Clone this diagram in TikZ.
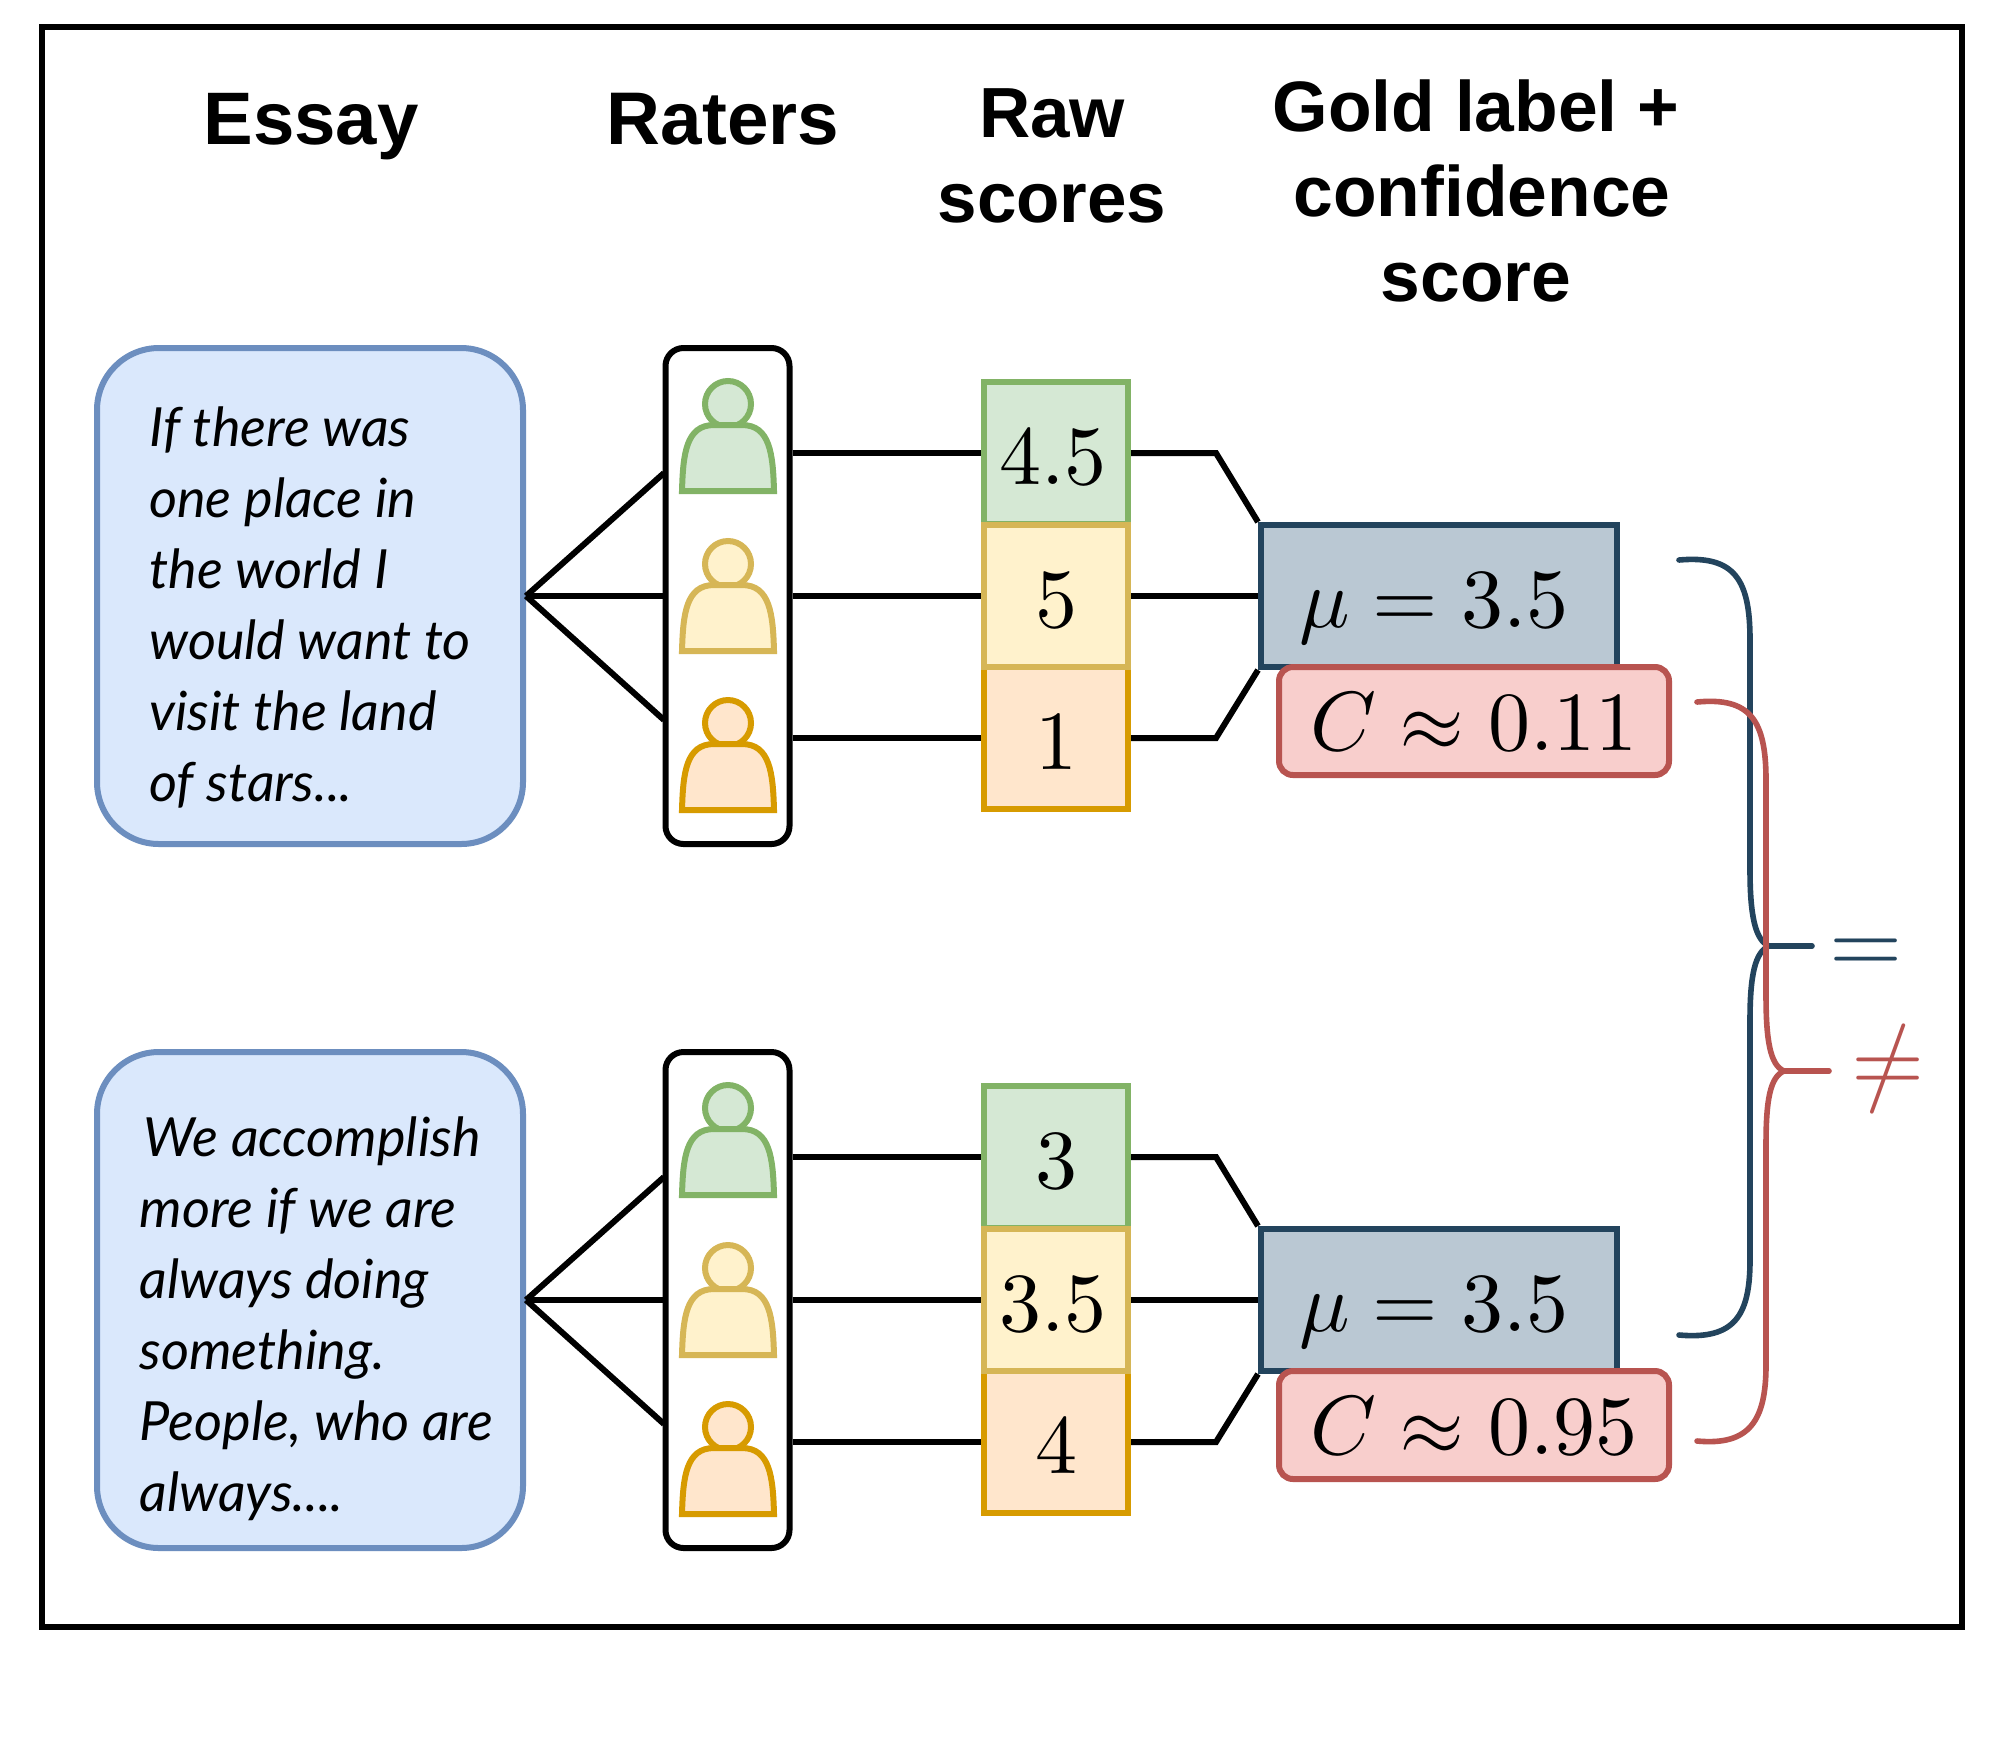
\documentclass[tikz,border=0pt]{standalone}
\usepackage{amsmath}
\usepackage{fontspec}
\setmainfont{Liberation Sans}
\newfontfamily\essayfont{Lato}
\usepackage{unicode-math}
\setmathfont{Latin Modern Math}
\definecolor{gfill}{HTML}{D5E8D4}\definecolor{gline}{HTML}{82B366}
\definecolor{yfill}{HTML}{FFF2CC}\definecolor{yline}{HTML}{D6B656}
\definecolor{ofill}{HTML}{FFE6CC}\definecolor{oline}{HTML}{D79B00}
\definecolor{bfill}{HTML}{DAE8FC}\definecolor{bline}{HTML}{6C8EBF}
\definecolor{rfill}{HTML}{F8CECC}\definecolor{rline}{HTML}{B85450}
\definecolor{nfill}{HTML}{BAC8D3}\definecolor{nline}{HTML}{23445D}
\tikzset{
  header/.style={font=\fontsize{#1}{42.5}\selectfont\bfseries,align=center,inner sep=0pt},
  essaybox/.style={draw=bline,fill=bfill,line width=3pt,rounded corners=31pt,minimum width=213pt,minimum height=248pt,inner sep=0pt,font=\fontsize{27}{35.5}\selectfont\essayfont\itshape},
  raterbox/.style={draw=black,fill=white,line width=3pt,rounded corners=9pt,minimum width=62pt,minimum height=248pt,inner sep=0pt},
  scorebox/.style={line width=3pt,minimum width=72pt,minimum height=71pt,inner sep=0pt,font=\fontsize{42}{48}\selectfont,text height=31pt,text depth=0pt},
  goldbox/.style={draw=nline,fill=nfill,line width=3pt,minimum width=178pt,minimum height=71pt,inner sep=0pt,font=\fontsize{42}{48}\selectfont,text height=31pt,text depth=0pt},
  confbox/.style={draw=rline,fill=rfill,line width=3pt,rounded corners=7pt,minimum width=195pt,minimum height=54pt,inner sep=0pt,font=\fontsize{42}{48}\selectfont,text height=29pt,text depth=0pt},
  conn/.style={draw=black,line width=3pt,line join=miter},
  relsign/.style={font=\fontsize{47}{52}\selectfont,inner sep=0pt},
  bracepath/.style={line width=2.8pt,line cap=round},
}
\newcommand{\ratericon}[4]{% x, head y, fill, line
  \begin{scope}[shift={(#1,#2)},draw=#4,fill=#3,line width=3pt]
    \filldraw (0,0) ellipse [x radius=23, y radius=23];
    \filldraw (-46,87) .. controls (-45,50) and (-42,21) .. (-14,21) -- (14,21) .. controls (42,21) and (45,50) .. (46,87) -- cycle;
  \end{scope}}
\newcommand{\rowgroup}[9]{% suffix, y offset, essay text, 3 scores, C, essay hspace, strut
  \begin{scope}[yshift=#2*-0.5pt]
  \node[essaybox] (e#1) at (310,596) {\hspace*{#8pt}\begin{tabular}{@{}l@{}}\rule{0pt}{#9pt}#3\end{tabular}};
  \node[raterbox] (r#1) at (727.5,596) {};
  \ratericon{728}{404}{gfill}{gline}
  \ratericon{728}{564}{yfill}{yline}
  \ratericon{728}{723}{ofill}{oline}
  \node[scorebox,draw=gline,fill=gfill] (sa#1) at (1056,453) {#4};
  \node[scorebox,draw=oline,fill=ofill] (sc#1) at (1056,738) {#6};
  \node[scorebox,draw=yline,fill=yfill] (sb#1) at (1056,596) {#5};
  \node[goldbox] (g#1) at (1439,596) {$\mu=3.5$\hspace*{5pt}};
  \node[confbox] (c#1) at (1474,721) {$C\approx #7$};
  \coordinate (ea#1) at (664,473);
  \coordinate (ec#1) at (664,720);
  \coordinate (ka#1) at (1216,453);
  \coordinate (kc#1) at (1216,738);
  \draw[conn] (e#1.east) -- (ea#1);
  \draw[conn] (e#1.east) -- (r#1.west);
  \draw[conn] (e#1.east) -- (ec#1);
  \draw[conn] (r#1.east |- sa#1.west) -- (sa#1.west);
  \draw[conn] (r#1.east |- sb#1.west) -- (sb#1.west);
  \draw[conn] (r#1.east |- sc#1.west) -- (sc#1.west);
  \draw[conn] (sa#1.east) -- (ka#1) -- (g#1.north west);
  \draw[conn] (sb#1.east) -- (g#1.west);
  \draw[conn] (sc#1.east) -- (kc#1) -- (g#1.south west);
  \end{scope}}
\begin{document}
\begin{tikzpicture}[x=0.5pt,y=-0.5pt]
\useasboundingbox (0,0) rectangle (2007,1736);
\fill[white] (0,0) rectangle (2007,1736);
\node[draw=black,line width=3pt,minimum width=960pt,minimum height=800pt,inner sep=0pt] (frame) at (1002,827) {};
\node[header=37.2] (h1) at (311,127) {Essay};
\node[header=37.3] (h2) at (723,119) {Raters};
\node[header=35.5] (h3) at (1052,156) {Raw\\scores};
\node[header=35.7] (h4) at (1476,191) {Gold label +\\\hspace*{6pt}confidence\\score};
\rowgroup{u}{0}{If there was\\one place in\\the world I\\would want to\\visit the land\\of stars...}{$4.5$\hspace*{3pt}}{$5$}{$1$}{0.11}{0}{39}
\rowgroup{d}{704}{\hspace{2pt}We accomplish\\more if we are\\always doing\\something.\\People, who are\\always....}{$3$}{$3.5$\hspace*{3pt}}{$4$}{0.95}{6.5}{45}
% blue brace
\coordinate (bs) at (1679,560);
\coordinate (bm) at (1769,946);
\coordinate (be) at (1679,1335);
\coordinate (bt) at (1812,946);
\draw[bracepath,draw=nline] (bs) .. controls (1735,555) and (1750,580) .. (1750,640) -- (1750,870) .. controls (1750,915) and (1755,940) .. (bm) .. controls (1755,952) and (1750,975) .. (1750,1020) -- (1750,1260) .. controls (1750,1315) and (1735,1340) .. (be);
\draw[bracepath,draw=nline] (bm) -- (bt);
\node[relsign,text=nline] (eqs) at (1866,956) {$=$};
% red brace
\coordinate (rs) at (1697,702);
\coordinate (rm) at (1784,1071);
\coordinate (re) at (1697,1441);
\coordinate (rt) at (1829,1071);
\draw[bracepath,draw=rline] (rs) .. controls (1750,697) and (1766,720) .. (1766,780) -- (1766,995) .. controls (1766,1040) and (1770,1065) .. (rm) .. controls (1770,1077) and (1766,1100) .. (1766,1145) -- (1766,1365) .. controls (1766,1420) and (1750,1446) .. (re);
\draw[bracepath,draw=rline] (rm) -- (rt);
\node[relsign,text=rline] (neqs) at (1888,1069) {$\neq$};
\end{tikzpicture}
\end{document}
